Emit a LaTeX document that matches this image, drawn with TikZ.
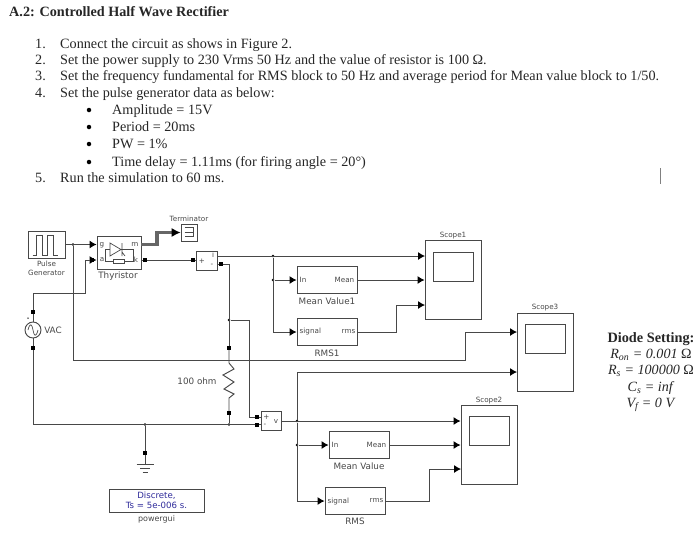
\documentclass[tikz,border=0pt]{standalone}
\usepackage{fontspec}
\setmainfont{Liberation Serif}
\newfontfamily\blockfont{DejaVu Sans}
\usetikzlibrary{arrows.meta,positioning}

\definecolor{wirecol}{HTML}{484848}
\definecolor{guicol}{HTML}{2E2A9A}

\tikzset{
  block/.style={draw=wirecol,line width=.95pt,fill=white,inner sep=0pt,font=\blockfont\fontsize{7.3}{9}\selectfont,text=wirecol},
  scope/.style={block,minimum width=56pt,minimum height=78.5pt},
  func/.style={block,minimum width=60pt,minimum height=26.5pt},
  screen/.style={draw=wirecol,line width=.95pt,minimum width=40pt,minimum height=29pt,inner sep=0pt},
  port/.style={fill=black,minimum size=4pt,inner sep=0pt},
  dot/.style={circle,fill=black,minimum size=2.6pt,inner sep=0pt},
  bull/.style={circle,fill=black,minimum size=4.5pt,inner sep=0pt},
  wire/.style={draw=wirecol,line width=.95pt},
  thin wire/.style={draw=wirecol,line width=.7pt},
  sig/.style={wire,-{Latex[length=7pt,width=8pt,black]}},
  lbl/.style={text=wirecol,font=\blockfont\fontsize{8.8}{10}\selectfont,inner sep=0pt},
  tiny/.style={text=wirecol,font=\blockfont\fontsize{7.2}{9.5}\selectfont,align=center,inner sep=0pt},
  doc/.style={anchor=base west,inner sep=0pt,font=\fontsize{14.2}{16}\selectfont,text=black!85},
  side/.style={anchor=base,inner sep=0pt,font=\fontsize{14.1}{16}\selectfont,text=black!85},
}

\begin{document}
\begin{tikzpicture}[x=1pt,y=-1pt,on grid]
\useasboundingbox (0,0) rectangle (700,550);

% instructions
\node[doc,font=\bfseries\fontsize{14.2}{16}\selectfont] (title) at (9,16) {A.2: Controlled Half Wave Rectifier};
\node[doc] (n1) at (35,48) {1.};
\node[doc] (t1) at (60,48) {Connect the circuit as shows in Figure 2.};
\node[doc] (n2) at (35,64) {2.};
\node[doc] (t2) at (60,64) {Set the power supply to 230 Vrms 50 Hz and the value of resistor is 100 Ω.};
\node[doc] (n3) at (35,80) {3.};
\node[doc] (t3) at (60,80) {Set the frequency fundamental for RMS block to 50 Hz and average period for Mean value block to 1/50.};
\node[doc] (n4) at (35,97) {4.};
\node[doc] (t4) at (60,97) {Set the pulse generator data as below:};
\node[bull] (b1) at (89,110) {};
\node[doc] (s1) at (112,114) {Amplitude = 15V};
\node[bull] (b2) at (89,127) {};
\node[doc] (s2) at (112,131) {Period = 20ms};
\node[bull] (b3) at (89,144) {};
\node[doc] (s3) at (112,148) {PW = 1\%};
\node[bull] (b4) at (89,162) {};
\node[doc] (s4) at (112,166) {Time delay = 1.11ms (for firing angle = 20°)};
\node[doc] (n5) at (35,182) {5.};
\node[doc] (t5) at (60,182) {Run the simulation to 60 ms.};
\draw[gray,line width=.7pt] (660,168) -- (660,184);

% blocks
\node[block,minimum width=37pt,minimum height=27pt] (pulse) at (46.5,244.5) {};
\node[block,minimum width=44pt,minimum height=33pt] (thy) [below right=8pt and 72.5pt of pulse] {};
\node[block,minimum width=16pt,minimum height=17pt] (term) [above right=20pt and 70pt of thy] {};
\node[block,minimum width=21pt,minimum height=19pt] (imeas) [below right=8pt and 87.5pt of thy] {};
\node[func] (mean1) [below right=19.5pt and 120.5pt of imeas] {};
\node[func] (rms1) [below=52pt of mean1] {};
\node[scope] (scope1) [right=126pt of mean1] {};
\node[scope] (scope3) [below right=72.5pt and 92pt of scope1] {};
\node[circle,draw=wirecol,line width=.95pt,minimum size=16pt,inner sep=0pt] (vac) at (33,330) {};
\node[block,minimum width=20pt,minimum height=19pt] (vmeas) at (271,421) {};
\node[func] (mean) [below right=24pt and 88pt of vmeas] {};
\node[func] (rms) [below left=56pt and 4pt of mean] {};
\node[scope] (scope2) [right=130pt of mean] {};
\node[block,minimum width=95pt,minimum height=23pt,align=center,text=guicol,font=\blockfont\fontsize{8.6}{10.5}\selectfont] (gui) at (156.5,500.5) {Discrete,\\Ts = 5e-006 s.};

% scope screens and captions
\node[screen] (scr1) at (453,266.5) {};
\node[screen] (scr3) at (545,338.5) {};
\node[screen] (scr2) at (489,430.5) {};
\node[tiny] (cap1) at ([yshift=5pt]scope1.north) {Scope1};
\node[tiny] (cap3) at ([yshift=5pt]scope3.north) {Scope3};
\node[tiny] (cap2) at ([yshift=5pt]scope2.north) {Scope2};

% captions
\node[tiny] (capp) at (46.5,268.5) {Pulse\\Generator};
\node[lbl] (capt) at (118,276) {Thyristor};
\node[tiny] (capterm) at (189,219) {Terminator};
\node[lbl] (capvac) [right=20pt of vac] {VAC};
\node[lbl] (capr) at (197,381.5) {100 ohm};
\node[lbl] (capm1) [below=21pt of mean1] {Mean Value1};
\node[lbl] (capr1) [below=21pt of rms1] {RMS1};
\node[lbl] (capm) [below=21.5pt of mean] {Mean Value};
\node[lbl] (capr2) [below=20pt of rms] {RMS};
\node[lbl,font=\blockfont\fontsize{8}{9}\selectfont] (capgui) [below=18.5pt of gui] {powergui};

% text inside the blocks
\node[tiny,anchor=west] (m1in) at ([xshift=3pt]mean1.west) {In};
\node[tiny,anchor=east] (m1out) at ([xshift=-3pt]mean1.east) {Mean};
\node[tiny,anchor=west] (r1in) at ([xshift=3pt]rms1.west) {signal};
\node[tiny,anchor=east] (r1out) at ([xshift=-2pt]rms1.east) {rms};
\node[tiny,anchor=west] (min) at ([xshift=3pt]mean.west) {In};
\node[tiny,anchor=east] (mout) at ([xshift=-3pt]mean.east) {Mean};
\node[tiny,anchor=west] (rin) at ([xshift=3pt]rms.west) {signal};
\node[tiny,anchor=east] (rout) at ([xshift=-2pt]rms.east) {rms};
\node[tiny] (thyg) at (102,245) {g};
\node[tiny] (thym) at (135,244) {m};
\node[tiny] (thya) at (102,260) {a};
\node[tiny] (thyk) at (136,260) {k};
\node[tiny] (ip) at (202,261) {+};
\node[tiny] (im) at (212,265) {-};
\node[tiny] (ii) at (213,255) {i};
\node[tiny] (vp) at (266.5,417) {+};
\node[tiny] (vm) at (265,425) {-};
\node[tiny] (vv) at (276,421.5) {v};

% icons
\draw[thin wire] (pulse.south west) ++(5,-3) -- ++(4,0) -- ++(0,-20) -- ++(6,0) -- ++(0,20) -- ++(5,0) -- ++(0,-20) -- ++(6,0) -- ++(0,20) -- ++(4,0);
\draw[thin wire] (105,249) -- (133,249) -- (133,261) -- (124,261) (113,261) -- (105,261) -- (105,249);
\draw[thin wire,fill=white] (110,243) -- (110,256) -- (121,249.5) -- cycle;
\draw[thin wire] (122,243) -- (122,256) (122,252) -- (125,256);
\draw[thin wire,fill=white] (113,259) rectangle (124,263);
\draw[thin wire] (term.north west) ++(4,4) -- ++(9,0) -- ++(0,9) -- ++(-9,0) (term.north west) ++(4,8.5) -- ++(9,0);
\draw[thin wire] (28,330) .. controls (30,322) and (32,324) .. (33,330) .. controls (34,336) and (36,338) .. (38,330);
\node[dot,minimum size=1.5pt] (vacp) at (28,318) {};

% ports and junctions
\node[port] (pa) at (92,260) {};
\node[port] (pk) at (145,260) {};
\node[port] (pip) at (193,260) {};
\node[port] (pim) at (221,264) {};
\node[port] (pvt) at (33,312) {};
\node[port] (pvb) at (33,348) {};
\node[port] (prt) at (229,348) {};
\node[port] (prb) at (229,413) {};
\node[port] (pvp) at (257,417) {};
\node[port] (pvm) at (257,424.5) {};
\node[port] (pg) at (145,453) {};
\node[dot] (jp) at (73,244.5) {};
\node[dot] (js) at (273,256) {};
\node[dot] (jm) at (273,280) {};
\node[dot] (jr) at (229,320) {};
\node[dot] (jb) at (229,424.5) {};
\node[dot] (jg) at (145,424.5) {};
\node[dot] (jv) at (297,421) {};
\node[dot] (jn) at (297,445) {};
\coordinate (s1a) at (425,256);
\coordinate (s1c) at (425,305);
\coordinate (s3a) at (517,332);
\coordinate (s3b) at (517,372);
\coordinate (s2c) at (461,469);
\coordinate (g1) at (145,464);

% connectors
\draw[sig] (pulse) -- (thy.west |- pulse);
\draw[sig] (pa) -- (thy.west |- pa);
\draw[sig] (mean1) -- (scope1.west |- mean1);
\draw[sig] (mean) -- (scope2.west |- mean);
\draw[sig] (jm) -- (mean1.west);
\draw[sig] (jn) -- (mean.west);
\draw[sig] (imeas.east |- s1a) -- (s1a);
\draw[sig] (vmeas) -- (scope2.west |- vmeas);
\path[wire]
  (pk) edge (thy.east |- pk)
  (pk) edge (pip)
  (pip) edge (imeas.west |- pip)
  (pim) edge (imeas.east |- pim)
  (pvp) edge (vmeas.west |- pvp)
  (pvm) edge (vmeas.west |- pvm)
  (pvt) edge (vac)
  (pvb) edge (vac)
  (prb) edge (jb)
  (jg) edge (pg)
  (pg) edge (g1);
\draw[sig] (js) |- (rms1.west);
\draw[sig] (jv) |- (rms.west);
\draw[sig] (jv) |- (s3b);
\draw[sig] (rms1) -| (396,305) -- (s1c);
\draw[sig] (rms) -| (429,469) -- (s2c);
\draw[sig] (jp) |- (465,360) |- (s3a);
\draw[wire] (pvt) |- (85,293) |- (pa);
\draw[wire] (pvb) |- (pvm);
\draw[wire] (pim) -| (prt);
\draw[wire] (jr) -| (249,417) -- (pvp);
\draw[wire] (prt) -- (229,363) -- (234,369) -- (223,375) -- (234,382) -- (224,389) -- (234,394) -- (229,398) -- (prb);
\draw[draw=black!60,line width=3.5pt] ([yshift=8pt]thy.east) -| (157,232.5) -- (173,232.5);
\draw[-{Latex[length=9pt,width=9pt,black]},draw=black!60,line width=1pt] (170,232.5) -- (term.west);
\draw[wire] ([xshift=-8.5pt]g1) -- ([xshift=8.5pt]g1) ([xshift=-5pt,yshift=-4pt]g1) -- ([xshift=5pt,yshift=-4pt]g1) ([xshift=-2.5pt,yshift=-8pt]g1) -- ([xshift=2.5pt,yshift=-8pt]g1);

% diode data
\node[side,font=\bfseries\fontsize{14.3}{16}\selectfont] (dtitle) at (651,342) {Diode Setting:};
\node[side] (d1) at (651,358) {\textit{R\textsubscript{on} = 0.001} Ω};
\node[side] (d2) at (651,374) {\textit{R\textsubscript{s} = 100000} Ω};
\node[side] (d3) at (651,391) {\textit{C\textsubscript{s} = inf}};
\node[side] (d4) at (651,407) {\textit{V\textsubscript{f} = 0 V}};
\end{tikzpicture}
\end{document}
